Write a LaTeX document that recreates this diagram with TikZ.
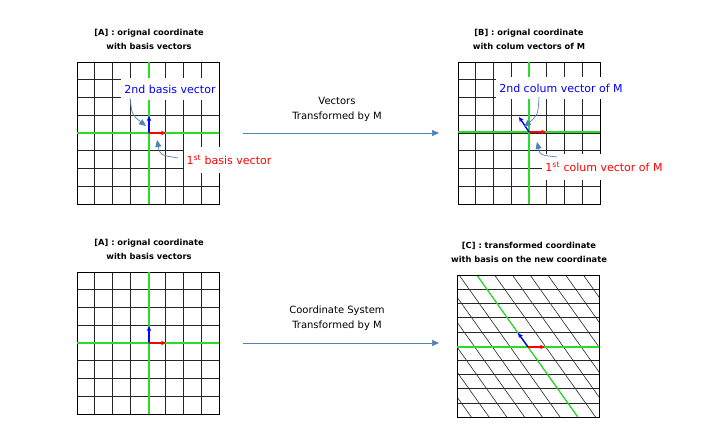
\documentclass[tikz,border=0pt]{standalone}
\usepackage{fontspec}
\setmainfont{DejaVu Sans}
\usetikzlibrary{arrows.meta}
\begin{document}
\begin{tikzpicture}[x=1pt,y=-1pt,
 title/.style={font=\bfseries\fontsize{8.3}{14}\selectfont,align=center},
 mid/.style={font=\fontsize{10}{15}\selectfont,align=center},
 lab/.style={font=\fontsize{11}{13}\selectfont,fill=white,inner sep=3pt},
 grd/.style={line width=0.6pt,black!85},
 vb/.style={line width=1.4pt,draw=blue,-{Stealth[length=5pt,width=4.5pt,fill=blue]}},
 vr/.style={line width=1.4pt,draw=red,-{Stealth[length=5pt,width=4.5pt,fill=red]}},
 big/.style={draw=steelb,line width=0.6pt,-{Triangle[length=7pt,width=6pt,fill=steelb]}},
 curv/.style={draw=steelb,line width=0.7pt,-{Triangle[length=7pt,width=6pt,fill=steelb]}}]
\definecolor{steelb}{RGB}{80,130,180}
\definecolor{gg}{RGB}{40,220,40}
\tikzset{ax/.style={line width=1.2pt,gg}}
\useasboundingbox (0,0) rectangle (719,435);
% ---- grid A top
\foreach \i in {1,...,7}{\draw[grd] (77+\i*17.75,62) -- (77+\i*17.75,204);
 \draw[grd] (77,62+\i*17.75) -- (219,62+\i*17.75);}
\draw[line width=0.9pt] (77,62) rectangle (219,204);
\draw[ax] (149,62) -- (149,204);
\draw[ax] (77,133) -- (219,133);
\coordinate (oA) at (149,133);
\coordinate (eA2) at (149,116);
\coordinate (eA1) at (166,133);
\draw[vb] (oA) -- (eA2);
\draw[vr] (oA) -- (eA1);
\node[lab,text=blue,minimum height=22pt] (l1) at (170,89) {2nd basis vector};
\node[lab,text=red,minimum height=26pt] (l2) at (229,160) {1\textsuperscript{st} basis vector};
\node[title] (tA) at (149,39) {[A] : orignal coordinate\\with basis vectors};
\coordinate (a1s) at (130,98);
\coordinate (a1e) at (146,126);
\draw[curv] (a1s) .. controls (132,115) .. (a1e);
\coordinate (a2s) at (178,158);
\coordinate (a2e) at (157,140);
\draw[curv] (a2s) .. controls (160,155) .. (a2e);
% ---- grid B
\foreach \i in {1,...,7}{\draw[grd] (458+\i*17.75,62) -- (458+\i*17.75,204);
 \draw[grd] (458,62+\i*17.75) -- (600,62+\i*17.75);}
\draw[line width=0.9pt] (458,62) rectangle (600,204);
\draw[ax] (529,62) -- (529,204);
\draw[ax] (458,132) -- (600,132);
\coordinate (oB) at (529,132);
\coordinate (eB2) at (519,117);
\coordinate (eB1) at (546,132);
\draw[vb] (oB) -- (eB2);
\draw[vr] (oB) -- (eB1);
\node[lab,text=blue,minimum height=22pt] (l3) at (561,88) {2nd colum vector of M};
\node[lab,text=red,minimum height=26pt] (l4) at (604,167) {1\textsuperscript{st} colum vector of M};
\node[title] (tB) at (529,39) {[B] : orignal coordinate\\with colum vectors of M};
\coordinate (b1s) at (539,97);
\coordinate (b1e) at (524,127);
\draw[curv] (b1s) .. controls (538,115) .. (b1e);
\coordinate (b2s) at (557,157);
\coordinate (b2e) at (537,142);
\draw[curv] (b2s) .. controls (540,155) .. (b2e);
% ---- middle arrows
\coordinate (m1s) at (243,133); \coordinate (m1e) at (439,133);
\draw[big] (m1s) -- (m1e);
\node[mid] (t1) at (337,109) {Vectors\\Transformed by M};
\coordinate (m2s) at (243,343); \coordinate (m2e) at (439,343);
\draw[big] (m2s) -- (m2e);
\node[mid] (t2) at (337,318) {Coordinate System\\Transformed by M};
% ---- grid A bottom
\foreach \i in {1,...,7}{\draw[grd] (77+\i*17.75,272) -- (77+\i*17.75,414);
 \draw[grd] (77,272+\i*17.75) -- (219,272+\i*17.75);}
\draw[line width=0.9pt] (77,272) rectangle (219,414);
\draw[ax] (149,272) -- (149,414);
\draw[ax] (77,343) -- (219,343);
\coordinate (oC) at (149,343);
\coordinate (eC2) at (149,326);
\coordinate (eC1) at (166,343);
\draw[vb] (oC) -- (eC2);
\draw[vr] (oC) -- (eC1);
\node[title] (tA2) at (149,249) {[A] : orignal coordinate\\with basis vectors};
% ---- grid C
\begin{scope}
\clip (457,275) rectangle (599,417);
\foreach \i in {1,...,9}{\draw[grd] (457,275+\i*14.2) -- (599,275+\i*14.2);}
\foreach \k in {-12,...,8}{\draw[grd] (528+\k*17.75-0.711*72,275) -- (528+\k*17.75+0.711*70,417);}
\draw[ax] (528-0.711*72,275) -- (528+0.711*70,417);
\end{scope}
\draw[line width=0.9pt] (457,275) rectangle (599,417);
\draw[ax] (457,347) -- (599,347);
\coordinate (oD) at (528,347);
\coordinate (eD2) at (518,333);
\coordinate (eD1) at (545,347);
\draw[vb] (oD) -- (eD2);
\draw[vr] (oD) -- (eD1);
\node[title] (tC) at (529,252) {[C] : transformed coordinate\\with basis on the new coordinate};
\end{tikzpicture}
\end{document}
